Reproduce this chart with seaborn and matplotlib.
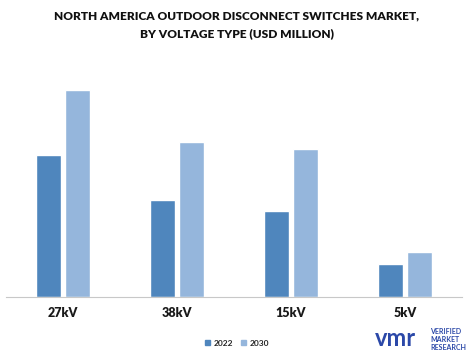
import pandas as pd
import matplotlib.pyplot as plt
import seaborn as sns
from matplotlib.patches import Patch

categories = ["27kV", "38kV", "15kV", "5kV"]
years = ["2022", "2030"]
values_2022 = [142, 97, 86, 33]
values_2030 = [207, 155, 148, 45]

df = pd.DataFrame({
    "Voltage": categories * 2,
    "Year": [years[0]] * 4 + [years[1]] * 4,
    "Value": values_2022 + values_2030,
})
colors = ["#4f86bd", "#95b6dc"]

sns.set_theme(style="white")
plt.rcParams['font.family'] = ['Lato', 'DejaVu Sans']

fig = plt.figure(figsize=(4.74, 3.55), dpi=100)
ax = fig.add_axes([6 / 474, 1 - 297 / 355, 456 / 474, 220 / 355])

sns.barplot(data=df, x="Voltage", y="Value", hue="Year",
            palette=colors, saturation=1, width=0.51, gap=0.14,
            legend=False, ax=ax)

ax.set_ylim(0, 220)
ax.set_xlim(-0.5, 3.5)
ax.set_xlabel("")
ax.set_ylabel("")
ax.set_yticks([])
for s in ["top", "left", "right"]:
    ax.spines[s].set_visible(False)
ax.spines["bottom"].set_color("#c8c8c8")
ax.spines["bottom"].set_linewidth(0.8)
ax.tick_params(axis="x", length=0, pad=7)
for lbl in ax.get_xticklabels():
    lbl.set_fontweight("heavy")
    lbl.set_fontsize(9)
    lbl.set_color("#1a1a1a")

fig.text(0.5, 1 - 16 / 355, "NORTH AMERICA OUTDOOR DISCONNECT SWITCHES MARKET,",
         ha="center", va="center", fontsize=8.6, fontweight="heavy", color="#111111")
fig.text(0.5, 1 - 34 / 355, "BY VOLTAGE TYPE (USD MILLION)",
         ha="center", va="center", fontsize=8.6, fontweight="heavy", color="#111111")

# legend
handles = [Patch(color=colors[0]), Patch(color=colors[1])]
fig.legend(handles, years, loc="center", bbox_to_anchor=(237 / 474, 1 - 343 / 355),
           ncol=2, frameon=False, handlelength=0.6, handleheight=0.6,
           handletextpad=0.4, columnspacing=1.0, prop={"weight": "bold", "size": 6})

# logo
fig.text(395 / 474, 1 - 339 / 355, "vmr", ha="center", va="center",
         fontsize=17, fontweight="bold", color="#2b48a8")
for i, w in enumerate(["VERIFIED", "MARKET", "RESEARCH"]):
    fig.text(430 / 474, 1 - (331 + i * 8) / 355, w, ha="left", va="center",
             fontsize=5, fontweight="bold", color="#2b48a8")

fig.savefig("out.png", dpi=100)
